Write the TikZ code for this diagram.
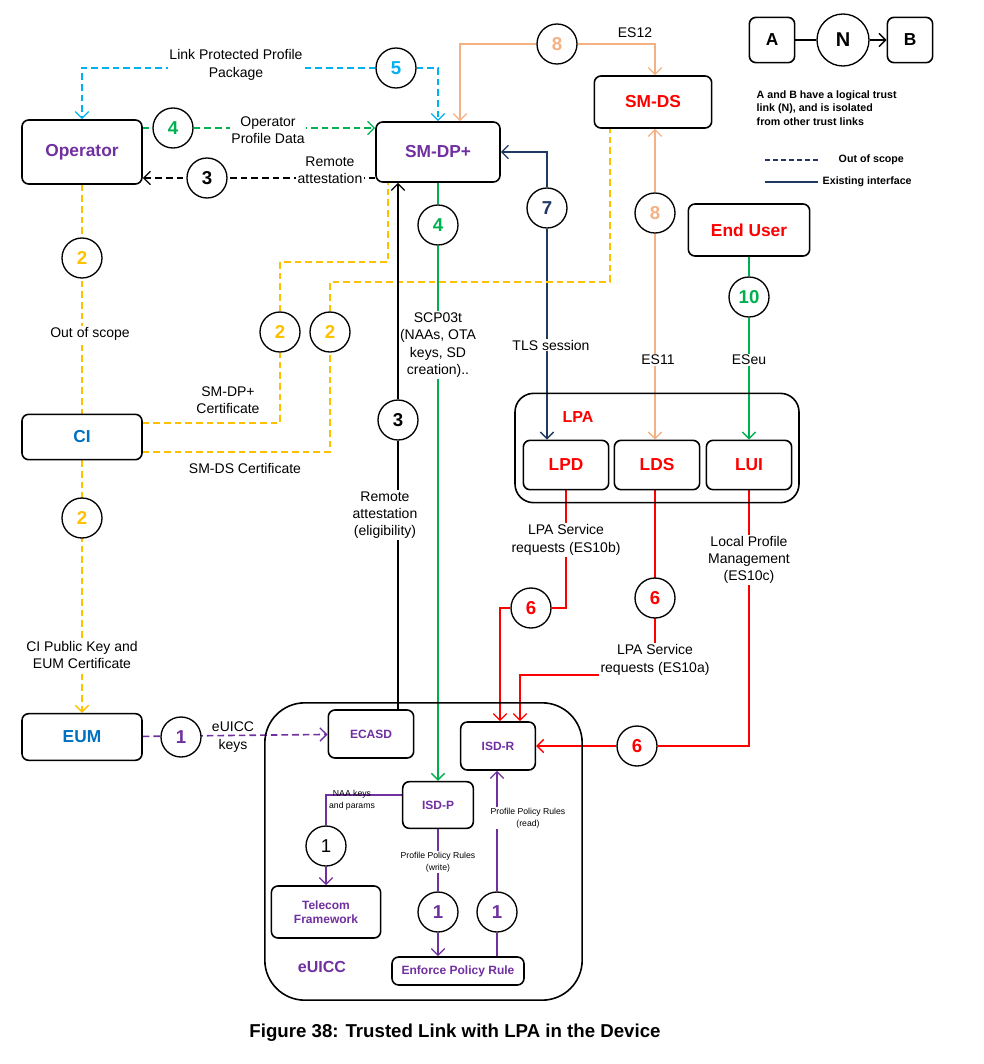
\documentclass[tikz,border=0pt]{standalone}
\usepackage{fontspec}
\setmainfont{Liberation Sans}
\usetikzlibrary{arrows.meta}
\definecolor{pur}{HTML}{7030A0}
\definecolor{blu}{HTML}{0070C0}
\definecolor{lblu}{HTML}{00B0F0}
\definecolor{grn}{HTML}{00B050}
\definecolor{yel}{HTML}{FFC000}
\definecolor{pch}{HTML}{F4B183}
\definecolor{nav}{HTML}{1F3864}
\pgfdeclarelayer{bg}
\pgfsetlayers{bg,main}
\tikzset{
  box/.style={draw,rounded corners=5pt,line width=1.2pt,fill=white,font=\fontsize{13}{14}\selectfont\bfseries,align=center,inner sep=0},
  sbox/.style={box,font=\fontsize{9}{10.5}\selectfont\bfseries,text=pur},
  num/.style={draw,circle,line width=1pt,fill=white,minimum size=30pt,inner sep=0,font=\fontsize{14}{14}\selectfont\bfseries},
  lab/.style={fill=white,inner sep=1pt,align=center,font=\fontsize{10.5}{13}\selectfont},
  slab/.style={fill=white,inner sep=1pt,align=center,font=\fontsize{6.5}{9}\selectfont},
  tip/.style={-{Straight Barb[length=5pt,width=10pt,line width=1pt]}},
  ln/.style={line width=1.2pt},
  dsh/.style={ln,dash pattern=on 5pt off 3pt},
}
\begin{document}
\begin{tikzpicture}[x=0.75pt,y=-0.75pt]
\useasboundingbox (0,0) rectangle (983,1064);
% containers
\node[draw,rounded corners=14pt,line width=1.2pt,minimum width=213pt,minimum height=82pt] (lpa) at (657,448) {};
\node[draw,rounded corners=30pt,line width=1.2pt,minimum width=238pt,minimum height=223pt] (euicc) at (423.5,851.5) {};
% boxes
\node[box,text=pur,minimum width=90pt,minimum height=48pt] (op) at (82,152) {Operator};
\node[box,text=pur,minimum width=93pt,minimum height=45pt] (dp) at (438,152) {SM-DP+};
\node[box,text=red,minimum width=88pt,minimum height=39pt] (ds) at (653,102) {SM-DS};
\node[box,text=red,minimum width=91pt,minimum height=39pt] (eu) at (749,230) {End User};
\node[box,text=blu,minimum width=90pt,minimum height=34pt] (ci) at (82,437) {CI};
\node[box,text=blu,minimum width=90pt,minimum height=35pt] (eum) at (82,737) {EUM};
\node[box,text=red,minimum width=64pt,minimum height=37pt] (lpd) at (566,465) {LPD};
\node[box,text=red,minimum width=64pt,minimum height=37pt] (lds) at (657,465) {LDS};
\node[box,text=red,minimum width=64pt,minimum height=37pt] (lui) at (749,465) {LUI};
\node[text=red,font=\fontsize{12}{12}\selectfont\bfseries] at (578,417) {LPA};
\node[sbox,minimum width=64pt,minimum height=36pt] (ecasd) at (371,734) {ECASD};
\node[sbox,minimum width=56pt,minimum height=36pt] (isdr) at (498,746) {ISD-R};
\node[sbox,minimum width=53pt,minimum height=35pt] (isdp) at (438,805) {ISD-P};
\node[sbox,minimum width=82pt,minimum height=39pt] (tf) at (326,912) {Telecom\\Framework};
\node[sbox,minimum width=99pt,minimum height=21pt] (epr) at (458,971) {Enforce Policy Rule};
\node[text=pur,font=\fontsize{12}{12}\selectfont\bfseries] at (322,967) {eUICC};
% legend
\node[box,minimum width=34pt,minimum height=34pt] (la) at (772,40) {A};
\node[num,minimum size=39pt,font=\fontsize{15}{15}\selectfont\bfseries] (ln) at (843,40) {N};
\node[box,minimum width=34pt,minimum height=34pt] (lb) at (910,40) {B};
\draw[ln] (la) -- (ln);
\draw[ln,tip] (ln) -- (lb);
\node[anchor=north west,align=left,font=\fontsize{8}{10}\selectfont\bfseries] at (752,86) {A and B have a logical trust\\link (N), and is isolated\\from other trust links};
\coordinate (d1) at (765,160); \coordinate (d2) at (818,160);
\coordinate (e1) at (765,182); \coordinate (e2) at (818,182);
\draw[ln,nav,dash pattern=on 4pt off 2pt] (d1) -- (d2);
\draw[ln,nav] (e1) -- (e2);
\node[anchor=west,font=\fontsize{8}{10}\selectfont\bfseries] at (834,160) {Out of scope};
\node[anchor=west,font=\fontsize{8}{10}\selectfont\bfseries] at (818,182) {Existing interface};
% circles
\node[num,text=lblu] (c5) at (396,68) {5};
\node[num,text=pch] (c8a) at (557,44) {8};
\node[num,text=grn] (c4a) at (173,128) {4};
\node[num] (c3a) at (207,178) {3};
\node[num,text=nav] (c7) at (547,208) {7};
\node[num,text=grn] (c4b) at (438,225) {4};
\node[num,text=pch] (c8b) at (655,213) {8};
\node[num,text=grn] (c10) at (749,297) {10};
\node[num,text=yel] (c2a) at (82,258) {2};
\node[num,text=yel] (c2b) at (280,332) {2};
\node[num,text=yel] (c2c) at (330,332) {2};
\node[num,text=yel] (c2d) at (82,518) {2};
\node[num] (c3b) at (398,420) {3};
\node[num,text=pur] (c1) at (181,737) {1};
\node[num,text=red] (c6a) at (531,608) {6};
\node[num,text=red] (c6b) at (655,598) {6};
\node[num,text=red] (c6c) at (637,746) {6};
\node[num,font=\fontsize{14}{14}\selectfont] (c1b) at (326,846) {1};
\node[num,text=pur] (c1c) at (438,912) {1};
\node[num,text=pur] (c1d) at (497,912) {1};
% connectors
\begin{pgfonlayer}{bg}
\draw[dsh,lblu,tip] (c5.west) -- (82,68) -- (op.north);
\draw[dsh,lblu,tip] (c5.east) -- (438,68) -- (dp.north);
\draw[ln,pch,tip] (c8a.west) -- (460,44) -- (dp.north -| 460,0);
\draw[ln,pch,tip] (c8a.east) -- (655,44) -- (ds.north -| 655,0);
\draw[dsh,grn] (op.east |- c4a) -- (c4a);
\draw[dsh,grn,tip] (c4a) -- (dp.west |- c4a);
\draw[dsh,tip] (dp.west |- c3a) -- (op.east |- c3a);
\draw[ln,nav,tip] (c7) -- (547,152) -- (dp.east);
\draw[ln,nav,tip] (c7) -- (lpd.north -| c7);
\draw[ln,grn] (dp.south) -- (c4b);
\draw[ln,grn,tip] (c4b) -- (isdp.north);
\draw[ln,pch,tip] (c8b) -- (ds.south -| c8b);
\draw[ln,pch,tip] (c8b) -- (lds.north -| c8b);
\draw[ln,grn] (eu) -- (c10);
\draw[ln,grn,tip] (c10) -- (lui.north);
\draw[dsh,yel] (op) -- (ci);
\draw[dsh,yel] (ci.east |- 0,423) -- (280,423) -- (c2b) -- (280,262) -- (388,262) -- (dp.south -| 388,0);
\draw[dsh,yel] (ci.east |- 0,452) -- (330,452) -- (c2c) -- (330,282) -- (610,282) -- (ds.south -| 610,0);
\draw[dsh,yel,tip] (ci) -- (eum);
\draw[ln,tip] (ecasd.north -| c3b) -- (c3b) -- (dp.south -| c3b);
\draw[dsh,pur,tip] (eum) -- (ecasd);
\draw[ln,red] (lpd.south) -- (566,608) -- (c6a);
\draw[ln,red,tip] (c6a) -- (500,608) -- (isdr.north -| 500,0);
\draw[ln,red,tip] (lds.south -| c6b) -- (655,675) -- (520,675) -- (isdr.north -| 520,0);
\draw[ln,red] (lui.south) -- (749,746) -- (c6c);
\draw[ln,red,tip] (c6c) -- (isdr.east);
\draw[ln,pur,line width=1pt,tip] (isdp.west |- 0,795) -- (326,795) -- (c1b) -- (tf.north);
\draw[ln,pur,line width=1pt,tip] (isdp.south) -- (c1c) -- (epr.north -| c1c);
\draw[ln,pur,line width=1pt,tip] (epr.north -| c1d) -- (c1d) -- (isdr.south -| c1d);
\end{pgfonlayer}
% labels
\node[lab] at (236,65) {Link Protected Profile\\Package};
\node[lab,fill=none] at (635,33) {ES12};
\node[lab] at (268,130) {Operator\\Profile Data};
\node[lab] at (330,170) {Remote\\attestation};
\node[lab] at (551,345) {TLS session};
\node[lab] at (438,345) {SCP03t\\(NAAs, OTA\\keys, SD\\creation)..};
\node[lab] at (658,360) {ES11};
\node[lab] at (749,360) {ESeu};
\node[lab] at (90,334) {Out of scope};
\node[lab,fill=none] at (228,400) {SM-DP+\\Certificate};
\node[lab,fill=none] at (245,468) {SM-DS Certificate};
\node[lab] at (82,655) {CI Public Key and\\EUM Certificate};
\node[lab,fill=none] at (233,737) {eUICC\\keys};
\node[lab] at (385,515) {Remote\\attestation\\(eligibility)};
\node[lab] at (566,540) {LPA Service\\requests (ES10b)};
\node[lab] at (655,660) {LPA Service\\requests (ES10a)};
\node[lab] at (749,560) {Local Profile\\Management\\(ES10c)};
\node[slab,fill=none] at (352,800) {NAA keys\\and params};
\node[slab] at (438,862) {Profile Policy Rules\\(write)};
\node[slab] at (528,818) {Profile Policy Rules\\(read)};
\node[font=\fontsize{14}{14}\selectfont\bfseries] at (455,1033) {Figure 38: Trusted Link with LPA in the Device};
\end{tikzpicture}
\end{document}
